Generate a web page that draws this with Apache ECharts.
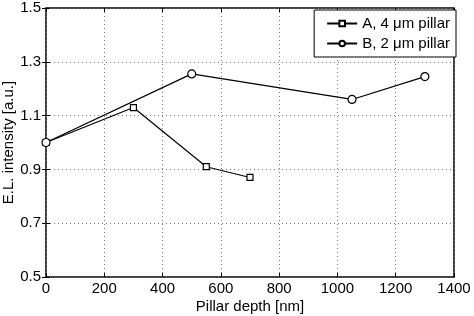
<!DOCTYPE html>
<html>
<head>
<meta charset="utf-8">
<script src="https://cdn.jsdelivr.net/npm/echarts@6/dist/echarts.min.js"></script>
<style>
  html, body { margin: 0; padding: 0; background: #fff; }
  #chart { width: 474px; height: 316px; }
</style>
</head>
<body>
<div id="chart"></div>
<script>
  // values
  var depthA = [0, 300, 550, 700];
  var intensityA = [1.0, 1.13, 0.91, 0.87];
  var depthB = [0, 500, 1050, 1300];
  var intensityB = [1.0, 1.255, 1.16, 1.245];
  var seriesNames = ['A, 4 \u03bcm pillar', 'B, 2 \u03bcm pillar'];

  function pairs (xs, ys) {
    return xs.map(function (x, i) { return [x, ys[i]]; });
  }

  var font = 'Liberation Sans, Arial, sans-serif';
  var chart = echarts.init(document.getElementById('chart'));

  var tickStyle = { show: true, inside: true, length: 4, lineStyle: { color: '#000' } };
  var lineStyle = { color: '#000', width: 1.2 };

  var option = {
    backgroundColor: '#fff',
    animation: false,
    grid: {
      left: 46, right: 20, top: 8, bottom: 39,
      outerBoundsMode: 'none',
      containLabel: false,
      show: true, borderColor: '#000', borderWidth: 1.5
    },
    legend: {
      right: 18, top: 10,
      orient: 'vertical',
      backgroundColor: '#fff',
      borderColor: '#000', borderWidth: 1,
      padding: [6, 6, 6, 12],
      itemGap: 5,
      itemWidth: 30, itemHeight: 7,
      textStyle: { fontFamily: font, fontSize: 15, color: '#000' },
      data: seriesNames
    },
    xAxis: [{
      type: 'value', min: 0, max: 1400, interval: 200,
      name: 'Pillar depth [nm]', nameLocation: 'middle', nameGap: 22,
      nameMoveOverlap: false,
      nameTextStyle: { fontFamily: font, fontSize: 15, color: '#000' },
      axisLine: { show: false },
      axisTick: tickStyle,
      axisLabel: { fontFamily: font, fontSize: 15, color: '#000', margin: 4,
        formatter: function (v) { return String(v); } },
      splitLine: { show: true, lineStyle: { color: '#777', type: [1, 3], width: 1 } }
    }, {
      type: 'value', position: 'top', min: 0, max: 1400, interval: 200,
      axisLine: { show: false }, axisTick: tickStyle,
      axisLabel: { show: false }, splitLine: { show: false }
    }],
    yAxis: [{
      type: 'value', min: 0.5, max: 1.5, interval: 0.2,
      name: 'E.L. intensity [a.u.]', nameLocation: 'middle', nameGap: 30,
      nameMoveOverlap: false,
      nameTextStyle: { fontFamily: font, fontSize: 15, color: '#000' },
      axisLine: { show: false },
      axisTick: tickStyle,
      axisLabel: { fontFamily: font, fontSize: 15, color: '#000', margin: 5,
        formatter: function (v) { return v.toFixed(1); } },
      splitLine: { show: true, lineStyle: { color: '#777', type: [1, 3], width: 1 } }
    }, {
      type: 'value', position: 'right', min: 0.5, max: 1.5, interval: 0.2,
      axisLine: { show: false }, axisTick: tickStyle,
      axisLabel: { show: false }, splitLine: { show: false }
    }],
    series: [{
      name: seriesNames[0],
      type: 'line',
      data: pairs(depthA, intensityA),
      symbol: 'rect', symbolSize: 6,
      itemStyle: { color: '#fff', borderColor: '#000', borderWidth: 1.2 },
      lineStyle: lineStyle
    }, {
      name: seriesNames[1],
      type: 'line',
      data: pairs(depthB, intensityB),
      symbol: 'circle', symbolSize: 8,
      itemStyle: { color: '#fff', borderColor: '#000', borderWidth: 1.2 },
      lineStyle: lineStyle
    }]
  };

  chart.setOption(option);
</script>
</body>
</html>
